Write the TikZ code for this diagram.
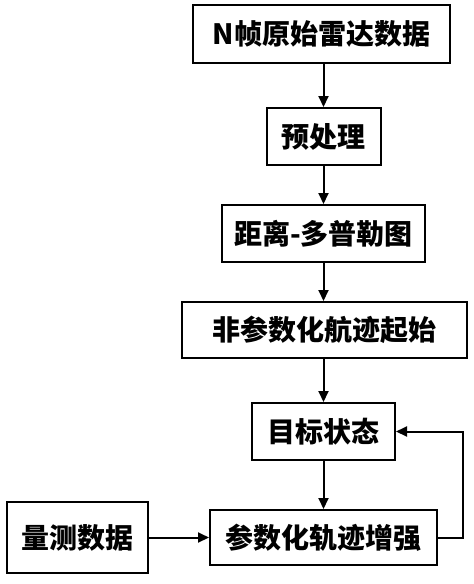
\documentclass[tikz,border=0pt]{standalone}
\usepackage{fontspec}
\setmainfont{Noto Sans CJK SC}
\usetikzlibrary{arrows.meta}
\tikzset{
  box/.style={draw=black, line width=2pt, rectangle, inner sep=0pt, align=center,
              font=\fontsize{28}{30}\selectfont\bfseries},
  arr/.style={line width=2pt, -{Triangle[length=11pt,width=10pt]}}
}
\begin{document}
\begin{tikzpicture}[x=1pt,y=-1pt]
\useasboundingbox (0,0) rectangle (474,584);
\node[box, minimum width=257pt, minimum height=58pt] (b1) at (321.5,34) {N帧原始雷达数据};
\node[box, minimum width=114pt, minimum height=57pt] (b2) at (323.5,136.5) {预处理};
\node[box, minimum width=203pt, minimum height=57pt] (b3) at (323.5,233.5) {距离-多普勒图};
\node[box, minimum width=285pt, minimum height=56pt] (b4) at (324.5,330) {非参数化航迹起始};
\node[box, minimum width=143pt, minimum height=57pt] (b5) at (323.5,431.5) {目标状态};
\node[box, minimum width=227pt, minimum height=55pt] (b6) at (323.5,537.5) {参数化轨迹增强};
\node[box, minimum width=141pt, minimum height=71pt] (b7) at (77.5,537.5) {量测数据};
\coordinate (fb) at (463,537.5);
\draw[arr] (b1.south -| b2.north) -- (b2.north);
\draw[arr] (b2.south) -- (b3.north);
\draw[arr] (b3.south) -- (b3.south |- b4.north);
\draw[arr] (b4.south -| b5.north) -- (b5.north);
\draw[arr] (b5.south) -- (b6.north);
\draw[arr] (b7.east) -- (b6.west);
\draw[arr] (b6.east) -- (fb) |- (b5.east);
\end{tikzpicture}
\end{document}
